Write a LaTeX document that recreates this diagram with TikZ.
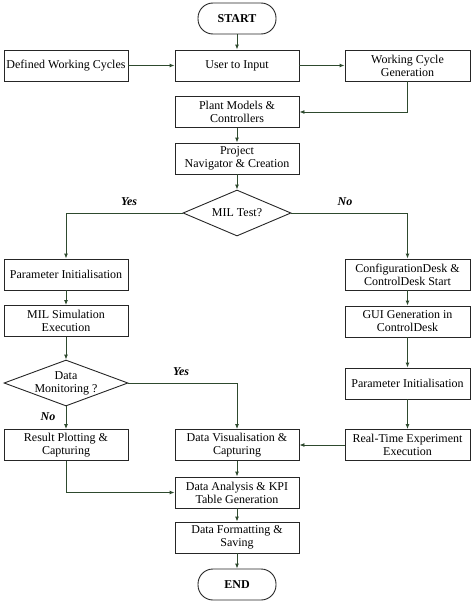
\documentclass[tikz,border=0pt]{standalone}
\usepackage{fontspec}
\setmainfont{Liberation Serif}
\usetikzlibrary{shapes.geometric,arrows.meta}
\definecolor{lnc}{HTML}{2E4A2E}
\tikzset{
  box/.style={draw=black!85, line width=0.9pt, minimum width=124pt, minimum height=31pt, inner sep=1pt, align=center, font=\fontsize{12}{13}\selectfont},
  term/.style={draw=black!85, line width=0.9pt, minimum width=78pt, minimum height=31pt, rounded corners=15pt, font=\fontsize{12}{13}\selectfont\bfseries},
  dec/.style={draw=black!85, line width=0.9pt, diamond, inner sep=0pt},
  dectext/.style={align=center, font=\fontsize{12}{13}\selectfont},
  conn/.style={draw=lnc, line width=0.9pt, -{Latex[length=5pt,width=4pt]}},
  lab/.style={font=\fontsize{12}{13}\selectfont\bfseries\itshape}
}
\begin{document}
\begin{tikzpicture}[x=1pt,y=1pt]
\useasboundingbox (0,0) rectangle (474,-605);
\node[term] (start) at (237,-18.5) {START};
\node[box] (user) at (237,-65.5) {User to Input};
\node[box] (def) at (66,-65.5) {Defined Working Cycles};
\node[box, minimum width=125pt] (wcg) at (407.5,-65.5) {Working Cycle\\Generation};
\node[box] (plant) at (237,-112) {Plant Models \&\\Controllers};
\node[box] (proj) at (237,-158.5) {Project\\Navigator \& Creation};
\node[dec, minimum width=108pt, minimum height=46pt] (mil) at (237,-213) {};
\node[dectext] (miltxt) at (mil.center) {MIL Test?};
\node[lab] (yes1) at (129,-202) {Yes};
\node[lab] (no1) at (345,-202) {No};
\node[box] (parL) at (66,-274.5) {Parameter Initialisation};
\node[box] (milsim) at (66,-321) {MIL Simulation\\Execution};
\node[dec, minimum width=124pt, minimum height=46pt] (mon) at (66,-383) {};
\node[dectext] (montxt) at (mon.center) {Data\\Monitoring ?};
\node[lab] (yes2) at (181,-372) {Yes};
\node[lab] (no2) at (48,-417) {No};
\node[box] (res) at (66,-445) {Result Plotting \&\\Capturing};
\node[box, minimum width=125pt] (conf) at (407.5,-274.5) {ConfigurationDesk \&\\ControlDesk Start};
\node[box, minimum width=125pt] (gui) at (407.5,-321.5) {GUI Generation in\\ControlDesk};
\node[box, minimum width=125pt] (parR) at (407.5,-383.5) {Parameter Initialisation};
\node[box, minimum width=125pt] (rt) at (407.5,-445) {Real-Time Experiment\\Execution};
\node[box] (vis) at (237,-445) {Data Visualisation \&\\Capturing};
\node[box] (ana) at (237,-492.5) {Data Analysis \& KPI\\Table Generation};
\node[box] (fmt) at (237,-537.5) {Data Formatting \&\\Saving};
\node[term] (end) at (237,-584.5) {END};

\draw[conn] (start) -- (user);
\draw[conn] (def) -- (user);
\draw[conn] (user) -- (wcg);
\draw[conn] (wcg.south) |- (plant.east);
\draw[conn] (plant) -- (proj);
\draw[conn] (proj) -- (mil);
\draw[conn] (mil.west) -| (parL.north);
\draw[conn] (mil.east) -| (conf.north);
\draw[conn] (parL) -- (milsim);
\draw[conn] (milsim) -- (mon);
\draw[conn] (mon.east) -| (vis.north);
\draw[conn] (mon) -- (res);
\draw[conn] (conf) -- (gui);
\draw[conn] (gui) -- (parR);
\draw[conn] (parR) -- (rt);
\draw[conn] (rt) -- (vis);
\draw[conn] (vis) -- (ana);
\draw[conn] (res.south) |- (ana.west);
\draw[conn] (ana) -- (fmt);
\draw[conn] (fmt) -- (end);
\end{tikzpicture}
\end{document}
